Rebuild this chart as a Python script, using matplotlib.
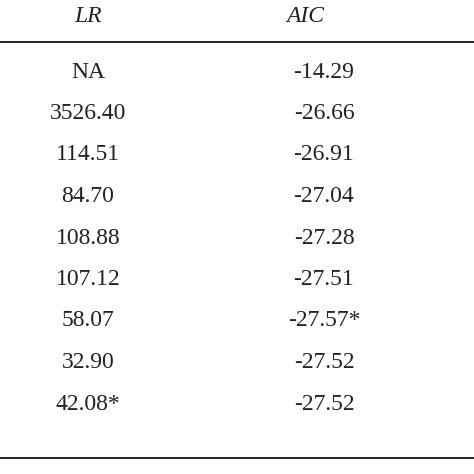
import matplotlib
matplotlib.use("Agg")
import matplotlib.pyplot as plt

headers = ["LR", "AIC"]
lr_values = ["NA", "3526.40", "114.51", "84.70", "108.88", "107.12", "58.07", "32.90", "42.08*"]
aic_values = ["-14.29", "-26.66", "-26.91", "-27.04", "-27.28", "-27.51", "-27.57*", "-27.52", "-27.52"]

plt.rcParams['font.family'] = ['Liberation Serif', 'DejaVu Serif']

fig = plt.figure(figsize=(4.74, 4.74), dpi=100)
ax = fig.add_axes([0, 0, 1, 1])
ax.set_xlim(0, 474)
ax.set_ylim(474, 0)
ax.axis('off')

col_x = [88, 324]
head_x = [88, 305]
fs = 17

for x, h in zip(head_x, headers):
    ax.text(x, 16, h, ha='center', va='center', fontsize=fs, style='italic', color='#222222')

ax.plot([0, 474], [42, 42], color='black', lw=1.2)

row_y0, row_dy = 72, 41.5
for i, (lr, aic) in enumerate(zip(lr_values, aic_values)):
    y = row_y0 + i * row_dy
    ax.text(col_x[0], y, lr, ha='center', va='center', fontsize=fs, color='#222222')
    ax.text(col_x[1], y, aic, ha='center', va='center', fontsize=fs, color='#222222')

ax.plot([0, 474], [458, 458], color='black', lw=1.2)

fig.savefig("out.png", dpi=100)
